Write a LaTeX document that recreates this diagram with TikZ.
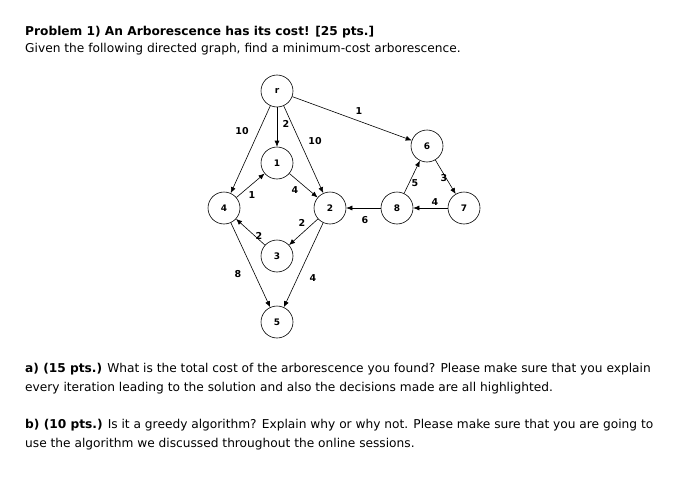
\documentclass[tikz,border=0pt]{standalone}
\usepackage{fontspec}
\setmainfont{DejaVu Sans}
\usetikzlibrary{arrows.meta}
\begin{document}
\begin{tikzpicture}[x=1pt,y=-1pt,
  vtx/.style={circle,draw,line width=0.6pt,minimum size=32pt,inner sep=0pt,font=\bfseries\fontsize{9}{9}\selectfont},
  arr/.style={-{Latex[length=6pt,width=5pt]},line width=0.6pt},
  lab/.style={font=\bfseries\fontsize{9.5}{9.5}\selectfont,inner sep=0pt},
  txt/.style={anchor=west,inner sep=0pt,font=\fontsize{12.2}{19}\selectfont}]
\useasboundingbox (0,0) rectangle (686,479);
\node[txt] (t1) at (25,32) {\textbf{Problem 1) An Arborescence has its cost! [25 pts.]}};
\node[txt] (t2) at (25,49) {Given the following directed graph, find a minimum-cost arborescence.};
\node[vtx] (r) at (277,91) {r};
\node[vtx] (n1) at (277,163) {1};
\node[vtx] (n4) at (224,208) {4};
\node[vtx] (n2) at (330,208) {2};
\node[vtx] (n3) at (277,256) {3};
\node[vtx] (n5) at (277,322) {5};
\node[vtx] (n6) at (427,146) {6};
\node[vtx] (n8) at (397,208) {8};
\node[vtx] (n7) at (464,208) {7};
\draw[arr] (r) -- (n4);
\draw[arr] (r) -- (n1);
\draw[arr] (r) -- (n2);
\draw[arr] (r) -- (n6);
\draw[arr] (n4) -- (n1);
\draw[arr] (n1) -- (n2);
\draw[arr] (n2) -- (n3);
\draw[arr] (n3) -- (n4);
\draw[arr] (n4) -- (n5);
\draw[arr] (n2) -- (n5);
\draw[arr] (n8) -- (n2);
\draw[arr] (n8) -- (n6);
\draw[arr] (n6) -- (n7);
\draw[arr] (n7) -- (n8);
\node[lab] (l1) at (242,131) {10};
\node[lab] (l2) at (286,124) {2};
\node[lab] (l3) at (315,141) {10};
\node[lab] (l4) at (359,111) {1};
\node[lab] (l5) at (252,195) {1};
\node[lab] (l6) at (295,190) {4};
\node[lab] (l7) at (302,223) {2};
\node[lab] (l8) at (259,236) {2};
\node[lab] (l9) at (365,220) {6};
\node[lab] (l10) at (415,183) {5};
\node[lab] (l11) at (444,178) {3};
\node[lab] (l12) at (435,202) {4};
\node[lab] (l13) at (238,274) {8};
\node[lab] (l14) at (313,278) {4};
\node[txt,align=left,anchor=north west] (pa) at (25,363) {\textbf{a) (15 pts.)} What is the total cost of the arborescence you found? Please make sure that you explain\\every iteration leading to the solution and also the decisions made are all highlighted.};
\node[txt,align=left,anchor=north west] (pb) at (25,419) {\textbf{b) (10 pts.)} Is it a greedy algorithm? Explain why or why not. Please make sure that you are going to\\use the algorithm we discussed throughout the online sessions.};
\end{tikzpicture}
\end{document}
